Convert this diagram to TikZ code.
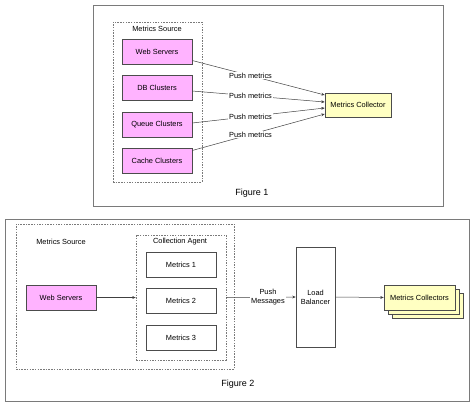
\documentclass[tikz,border=0pt]{standalone}
\usepackage{fontspec}
\setmainfont{Liberation Sans}
\usetikzlibrary{arrows.meta}
\definecolor{pinkfill}{HTML}{FFB3FF}
\definecolor{yellowfill}{HTML}{FFFFC2}
\definecolor{framegray}{HTML}{7A7A7A}
\begin{document}
\begin{tikzpicture}[x=1pt,y=-1pt,
  frame/.style={draw=framegray,line width=0.6pt,fill=none},
  dashbox/.style={draw=framegray,line width=0.5pt,dash pattern=on 1.5pt off 1.2pt,inner sep=0pt},
  srcbox/.style={draw=black!70,line width=0.5pt,fill=pinkfill,minimum width=70pt,minimum height=25pt,inner sep=0pt,font=\fontsize{7.4}{8.5}\selectfont},
  plainbox/.style={draw=black!70,line width=0.5pt,fill=white,minimum width=70pt,minimum height=25pt,inner sep=0pt,font=\fontsize{7.4}{8.5}\selectfont},
  colbox/.style={draw=black!70,line width=0.5pt,fill=yellowfill,minimum width=66pt,minimum height=24pt,inner sep=0pt,font=\fontsize{7.4}{8.5}\selectfont},
  lbl/.style={font=\fontsize{7.4}{9}\selectfont,inner sep=0.5pt},
  figlbl/.style={font=\fontsize{9}{10}\selectfont},
  conn/.style={draw=black!75,line width=0.5pt,-{Stealth[length=3.5pt,width=2.8pt]}},
  pushlbl/.style={lbl,fill=white,inner sep=0.8pt}
]
\useasboundingbox (0,0) rectangle (474,405);
% ---------- Figure 1 ----------
\node[frame,minimum width=350pt,minimum height=201pt,inner sep=0pt] (f1) at (268,105.5) {};
\node[dashbox,minimum width=89pt,minimum height=160pt] (src1) at (157.5,102) {};
\node[lbl] (src1lbl) at (157,29) {Metrics Source};
\node[srcbox] (ws) at (157,51.5) {Web Servers};
\node[srcbox] (db) at (157,88) {DB Clusters};
\node[srcbox] (qc) at (157,124.5) {Queue Clusters};
\node[srcbox] (cc) at (157,160.5) {Cache Clusters};
\node[colbox] (mc) at (358,105) {Metrics Collector};
\draw[conn] ([yshift=-9pt]ws.east) -- node[pushlbl,pos=0.44]{Push metrics} ([yshift=10pt]mc.west);
\draw[conn] ([yshift=-3pt]db.east) -- node[pushlbl,pos=0.44]{Push metrics} ([yshift=3pt]mc.west);
\draw[conn] ([yshift=1.5pt]qc.east) -- node[pushlbl,pos=0.44]{Push metrics} ([yshift=-3pt]mc.west);
\draw[conn] ([yshift=10pt]cc.east) -- node[pushlbl,pos=0.44]{Push metrics} ([yshift=-9pt]mc.west);
\node[figlbl] (fig1) at (252,193) {Figure 1};
% ---------- Figure 2 ----------
\node[frame,minimum width=464pt,minimum height=182pt,inner sep=0pt] (f2) at (237,310) {};
\node[dashbox,minimum width=218pt,minimum height=145pt] (src2) at (125,296.5) {};
\node[lbl] (src2lbl) at (61,242) {Metrics Source};
\node[dashbox,minimum width=90pt,minimum height=125pt] (agent) at (181,297.5) {};
\node[lbl] (agentlbl) at (180,242) {Collection Agent};
\node[plainbox] (m1) at (181,264.5) {Metrics 1};
\node[plainbox] (m2) at (181,300.5) {Metrics 2};
\node[plainbox] (m3) at (181,337.5) {Metrics 3};
\node[srcbox] (ws2) at (61,297.5) {Web Servers};
\node[plainbox,minimum width=39pt,minimum height=100pt,align=center,font=\fontsize{7.4}{9}\selectfont] (lb) at (315.5,297) {Load\\Balancer};
\node[colbox,minimum width=71pt,minimum height=25pt] (mcb2) at (427.5,305.5) {};
\node[colbox,minimum width=71pt,minimum height=25pt] (mcb1) at (423.5,301.5) {};
\node[colbox,minimum width=71pt,minimum height=25pt] (mcs) at (419.5,297.5) {Metrics Collectors};
\draw[conn] (ws2.east) -- (agent.west);
\draw[conn] (agent.east) -- node[lbl,fill=white,align=center,pos=0.6,inner sep=1.5pt]{Push\\Messages} (lb.west);
\draw[conn] (lb.east) -- (mcs.west);
\node[figlbl] (fig2) at (238,384) {Figure 2};
\end{tikzpicture}
\end{document}
